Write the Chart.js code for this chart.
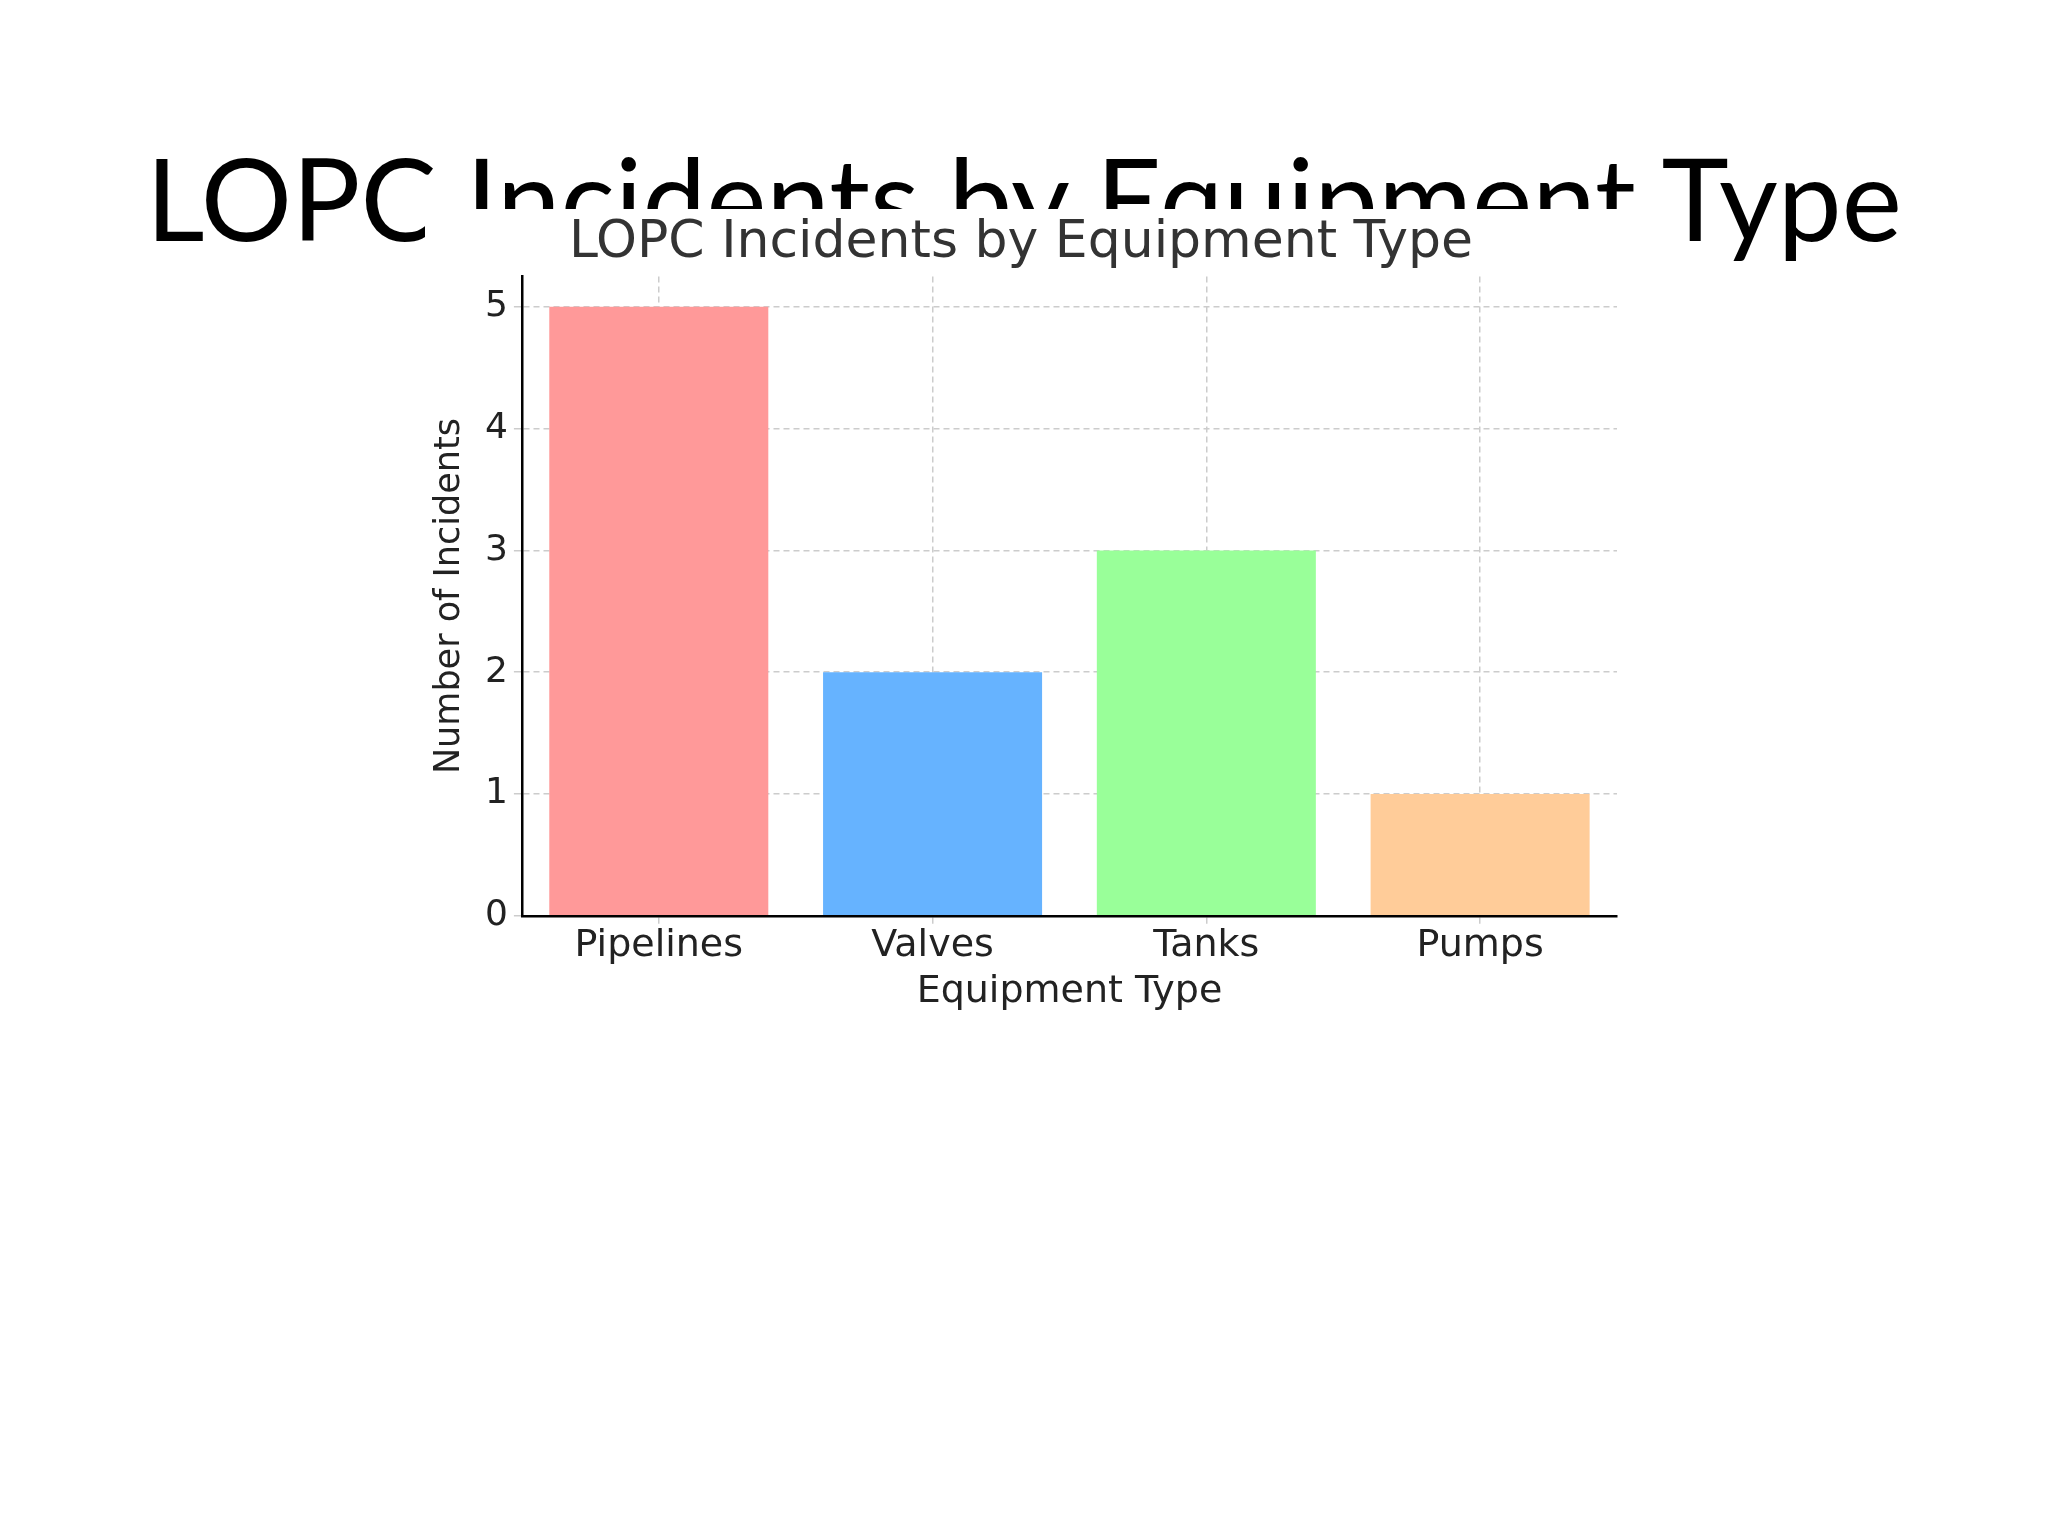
<!DOCTYPE html>
<html><head><meta charset="utf-8">
<script src="https://cdn.jsdelivr.net/npm/chart.js@4"></script>
<style>
html,body{margin:0;padding:0;background:#fff;width:2048px;height:1536px;overflow:hidden}
#t{position:absolute;left:0;width:2048px;top:140px;text-align:center;font-family:Lato,'Open Sans',sans-serif;font-size:114px;color:#000;line-height:1}
#img{position:absolute;left:425px;top:209px;width:1210px;height:810px;background:#fff}
</style></head><body>
<div id="t">LOPC Incidents by Equipment Type</div>
<div id="img"><canvas id="c" width="1210" height="810"></canvas></div>
<script>
const categories=['Pipelines','Valves','Tanks','Pumps'];
const incidents=[5,2,3,1];
const barColors=['#ff9999','#66b3ff','#99ff99','#ffcc99'];
const yTicks=[0,1,2,3,4,5];
const F='"DejaVu Sans"';
new Chart(document.getElementById('c'),{
type:'bar',
data:{labels:categories,datasets:[{data:incidents,backgroundColor:barColors,barPercentage:0.8,categoryPercentage:1}]},
options:{responsive:false,animation:false,
layout:{padding:{left:0,right:18,top:3,bottom:0}},
plugins:{legend:{display:false},tooltip:{enabled:false},
title:{display:true,text:'LOPC Incidents by Equipment Type',color:'#333',font:{family:F,size:52,weight:'normal'},padding:{top:0,bottom:2}}},
scales:{
x:{offset:true,grid:{offset:false,color:'#cccccc',lineWidth:1.5,drawTicks:true,tickLength:8},border:{color:'#000',width:2.5,dash:[6,4]},
ticks:{color:'#222',font:{family:F,size:38},padding:0},
title:{display:true,text:'Equipment Type',color:'#222',font:{family:F,size:38},padding:{top:0}}},
y:{min:0,max:5.25,grid:{color:'#cccccc',lineWidth:1.5,tickLength:8},border:{color:'#000',width:2.5,dash:[6,4]},
afterBuildTicks:a=>{a.ticks=yTicks.map(v=>({value:v}));},
ticks:{color:'#222',font:{family:F,size:36},padding:6},
title:{display:true,text:'Number of Incidents',color:'#222',font:{family:F,size:35},padding:{bottom:8}}}
}}});
</script></body></html>
